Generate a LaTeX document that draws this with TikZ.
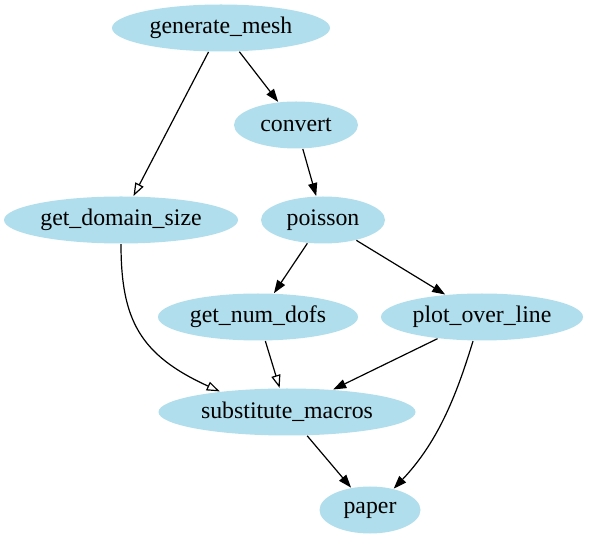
\documentclass[tikz,border=0pt]{standalone}
\usepackage{fontspec}
\setmainfont{Liberation Serif}
\usetikzlibrary{arrows.meta,shapes.geometric}
\definecolor{nodeblue}{RGB}{176,222,236}

\begin{document}
\begin{tikzpicture}[x=0.5pt,y=-0.5pt,semithick,
  job/.style={ellipse,fill=nodeblue,inner sep=0pt,minimum height=23.5pt,
    font=\fontsize{11.9}{14}\selectfont},
  dep/.style={-{Triangle[length=6.5pt,width=4.6pt]}},
  odep/.style={-{Triangle[open,length=6.5pt,width=4.6pt]}}]

\useasboundingbox (0,0) rectangle (589,539);

\node [job,minimum width=109pt] (mesh) at (221,28) {generate\_mesh};
\node [job,minimum width=62pt] (conv) at (296,125) {convert};
\node [job,minimum width=117pt] (dom) at (121,220) {get\_domain\_size};
\node [job,minimum width=62pt] (pois) at (323,220) {poisson};
\node [job,minimum width=100pt] (dofs) at (258,317) {get\_num\_dofs};
\node [job,minimum width=101pt] (line) at (482,317) {plot\_over\_line};
\node [job,minimum width=128.5pt] (subst) at (287,412) {substitute\_macros};
\node [job,minimum width=50.5pt] (paper) at (370,510) {paper};

\draw [dep] (mesh) -- (conv);
\draw [dep] (conv) -- (pois);
\draw [dep] (pois) -- (dofs);
\draw [dep] (pois) -- (line);
\draw [dep] (line) -- (subst);
\draw [dep] (subst) -- (paper);
\path (line.south) ++(-9,0) coordinate (lo);
\draw [dep] (lo) .. controls (458,390) and (440,440) .. (paper.42);

\draw [odep] (mesh) -- (dom);
\draw [odep] (dofs) -- (subst);
\draw [odep] (dom.south) .. controls (121,320) and (140,355) .. (subst.163);

\end{tikzpicture}
\end{document}
